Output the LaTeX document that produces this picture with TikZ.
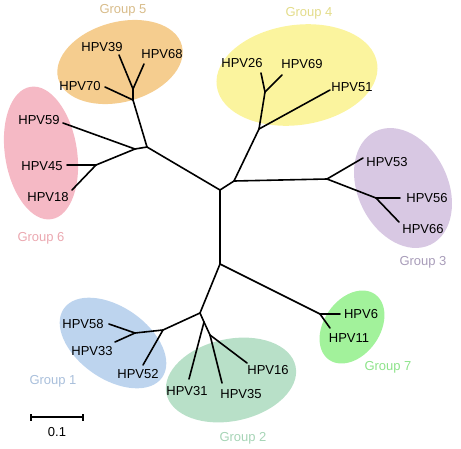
\documentclass[tikz,border=0pt]{standalone}
\usepackage{fontspec}
\setmainfont{Liberation Sans}
\usetikzlibrary{shapes.geometric}

\definecolor{fillA}{HTML}{BDD4EE}
\definecolor{fillB}{HTML}{B8E0C8}
\definecolor{fillC}{HTML}{D8C8E3}
\definecolor{fillD}{HTML}{FBF49E}
\definecolor{fillE}{HTML}{F5CD8F}
\definecolor{fillF}{HTML}{F5B9C5}
\definecolor{fillG}{HTML}{A2F29B}
\definecolor{textA}{HTML}{A9BFDB}
\definecolor{textB}{HTML}{A6D4B6}
\definecolor{textC}{HTML}{A89CB9}
\definecolor{textD}{HTML}{E3DC8A}
\definecolor{textE}{HTML}{D8BC8A}
\definecolor{textF}{HTML}{EBA8B0}
\definecolor{textG}{HTML}{8DE38A}

\begin{document}
\begin{tikzpicture}[
    x=1pt, y=-1pt,
    blob/.style={
        ellipse,
        draw=none,
        inner sep=0pt
    },
    leaf/.style={font=\fontsize{13}{15}\selectfont, inner sep=0pt},
    grp/.style={font=\fontsize{13}{15}\selectfont, inner sep=0pt},
    br/.style={line width=1.6pt, draw=black, line cap=round, line join=round}
]
    \useasboundingbox (0,0) rectangle (461,448);

    % clade shading
    \node[blob, fill=fillE, minimum width=128pt, minimum height=80pt, rotate=15] (g5) at (120,62) {};
    \node[blob, fill=fillD, minimum width=162pt, minimum height=100pt, rotate=8] (g4) at (297,75) {};
    \node[blob, fill=fillF, minimum width=72pt, minimum height=134pt, rotate=9] (g6) at (41,153) {};
    \node[blob, fill=fillC, minimum width=90pt, minimum height=126pt, rotate=26] (g3) at (403,188) {};
    \node[blob, fill=fillG, minimum width=56pt, minimum height=80pt, rotate=-35] (g7) at (352,327) {};
    \node[blob, fill=fillB, minimum width=132pt, minimum height=82pt, rotate=12] (g2) at (231,380) {};
    \node[blob, fill=fillA, minimum width=120pt, minimum height=72pt, rotate=-35] (g1) at (113,343) {};

    % group names
    \node[grp, text=textE] (n5) at (123,10) {Group 5};
    \node[grp, text=textD] (n4) at (309,13) {Group 4};
    \node[grp, text=textF] (n6) at (41,238) {Group 6};
    \node[grp, text=textC] (n3) at (423,262) {Group 3};
    \node[grp, text=textG] (n7) at (388,367) {Group 7};
    \node[grp, text=textB] (n2) at (243,438) {Group 2};
    \node[grp, text=textA] (n1) at (53,381) {Group 1};

    % inner nodes of the tree
    \coordinate (root) at (220,190);
    \coordinate (up) at (234,181);
    \coordinate (down) at (220,264);
    \coordinate (left) at (147,147);
    \coordinate (c5) at (133,100);
    \coordinate (c5b) at (133,89);
    \coordinate (c6) at (135,149);
    \coordinate (c6b) at (96,165);
    \coordinate (c4) at (259,129);
    \coordinate (c4b) at (265,92);
    \coordinate (c3) at (327,179);
    \coordinate (c3b) at (376,198);
    \coordinate (c7) at (320,314);
    \coordinate (c21) at (200,313);
    \coordinate (c2) at (204,322);
    \coordinate (c2b) at (210,335);
    \coordinate (c1) at (163,330);
    \coordinate (c1b) at (135,333);

    % tips
    \coordinate (t39) at (119,55);
    \coordinate (t68) at (144,64);
    \coordinate (t70) at (105,87);
    \coordinate (t59) at (63,123);
    \coordinate (t45) at (67,165);
    \coordinate (t18) at (72,190);
    \coordinate (t26) at (261,73);
    \coordinate (t69) at (282,75);
    \coordinate (t51) at (330,90);
    \coordinate (t53) at (363,158);
    \coordinate (t56) at (400,198);
    \coordinate (t66) at (399,222);
    \coordinate (t6) at (340,314);
    \coordinate (t11) at (330,328);
    \coordinate (t16) at (247,363);
    \coordinate (t35) at (222,383);
    \coordinate (t31) at (189,379);
    \coordinate (t58) at (109,324);
    \coordinate (t33) at (115,342);
    \coordinate (t52) at (143,365);

    % branches
    \draw[br] (left) -- (root) -- (up);
    \draw[br] (root) -- (down);
    \draw[br] (left) -- (c5);
    \draw[br] (c5) -- (c5b);
    \draw[br] (c5b) -- (t39);
    \draw[br] (c5b) -- (t68);
    \draw[br] (c5) -- (t70);
    \draw[br] (left) -- (c6);
    \draw[br] (c6) -- (t59);
    \draw[br] (c6) -- (c6b);
    \draw[br] (c6b) -- (t45);
    \draw[br] (c6b) -- (t18);
    \draw[br] (up) -- (c4);
    \draw[br] (c4) -- (c4b);
    \draw[br] (c4b) -- (t26);
    \draw[br] (c4b) -- (t69);
    \draw[br] (c4) -- (t51);
    \draw[br] (up) -- (c3);
    \draw[br] (c3) -- (t53);
    \draw[br] (c3) -- (c3b);
    \draw[br] (c3b) -- (t56);
    \draw[br] (c3b) -- (t66);
    \draw[br] (down) -- (c7);
    \draw[br] (c7) -- (t6);
    \draw[br] (c7) -- (t11);
    \draw[br] (down) -- (c21);
    \draw[br] (c21) -- (c2);
    \draw[br] (c2) -- (t31);
    \draw[br] (c2) -- (c2b);
    \draw[br] (c2b) -- (t35);
    \draw[br] (c2b) -- (t16);
    \draw[br] (c21) -- (c1);
    \draw[br] (c1) -- (c1b);
    \draw[br] (c1b) -- (t58);
    \draw[br] (c1b) -- (t33);
    \draw[br] (c1) -- (t52);

    % leaf names
    \node[leaf] (hpv39) at (102,47) {HPV39};
    \node[leaf] (hpv68) at (162,54) {HPV68};
    \node[leaf] (hpv70) at (80,86) {HPV70};
    \node[leaf] (hpv59) at (39,120) {HPV59};
    \node[leaf] (hpv45) at (42,166) {HPV45};
    \node[leaf] (hpv18) at (48,197) {HPV18};
    \node[leaf] (hpv26) at (242,63) {HPV26};
    \node[leaf] (hpv69) at (302,64) {HPV69};
    \node[leaf] (hpv51) at (352,87) {HPV51};
    \node[leaf] (hpv53) at (387,162) {HPV53};
    \node[leaf] (hpv56) at (427,198) {HPV56};
    \node[leaf] (hpv66) at (423,229) {HPV66};
    \node[leaf] (hpv6) at (361,314) {HPV6};
    \node[leaf] (hpv11) at (349,338) {HPV11};
    \node[leaf] (hpv16) at (268,370) {HPV16};
    \node[leaf] (hpv35) at (241,394) {HPV35};
    \node[leaf] (hpv31) at (187,391) {HPV31};
    \node[leaf] (hpv58) at (83,324) {HPV58};
    \node[leaf] (hpv33) at (92,351) {HPV33};
    \node[leaf] (hpv52) at (138,374) {HPV52};

    % scale bar
    \coordinate (sbl) at (31,417);
    \coordinate (sbr) at (83,417);
    \draw[line width=1.4pt] (sbl) -- (sbr);
    \draw[line width=1.4pt] ([yshift=-3.5pt]sbl) -- ([yshift=3.5pt]sbl);
    \draw[line width=1.4pt] ([yshift=-3.5pt]sbr) -- ([yshift=3.5pt]sbr);
    \node[leaf] (bar) at (57,432) {0.1};
\end{tikzpicture}
\end{document}
